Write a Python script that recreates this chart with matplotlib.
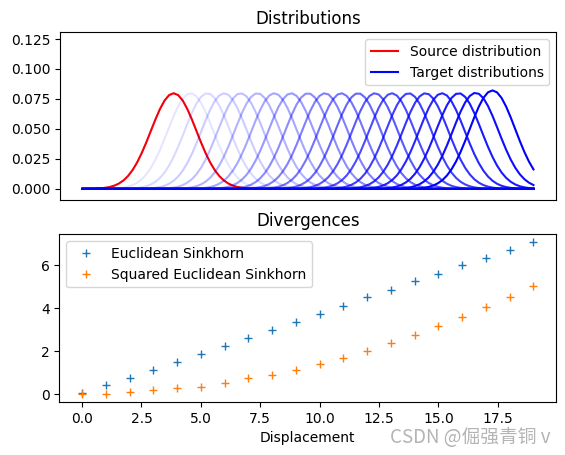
import numpy as np
import matplotlib
matplotlib.use("Agg")
import matplotlib.pyplot as plt

# histogram support and gaussian params
n_bins = 100
source_mean = 20
sigma = 5
target_means = [20, 23.7, 27.4, 31.1, 34.7, 38.4, 42.1, 45.8, 49.5, 53.2,
                56.8, 60.5, 64.2, 67.9, 71.6, 75.3, 78.9, 82.6, 86.3, 90]

# divergence values
displacement = list(range(20))
euclid_sinkhorn = [0.08, 0.43, 0.77, 1.14, 1.51, 1.88, 2.26, 2.63, 2.98, 3.35,
                   3.72, 4.09, 4.50, 4.87, 5.25, 5.61, 5.99, 6.35, 6.71, 7.08]
sq_euclid_sinkhorn = [0.03, 0.0, 0.11, 0.18, 0.28, 0.35, 0.55, 0.74, 0.92, 1.15,
                      1.43, 1.71, 2.03, 2.38, 2.77, 3.18, 3.58, 4.05, 4.54, 5.03]


def gauss_hist(n, m, s):
    x = np.arange(n, dtype=float)
    h = np.exp(-(x - m) ** 2 / (2 * s ** 2))
    return h / h.sum()


x = np.arange(n_bins)

fig = plt.figure(figsize=(5.65, 4.55), dpi=100)
ax1 = fig.add_axes([0.1062, 0.5604, 0.8779, 0.3686])
ax2 = fig.add_axes([0.1053, 0.1165, 0.8788, 0.3685])

ax1.plot(x, gauss_hist(n_bins, source_mean, sigma), color='r', label='Source distribution')
nt = len(target_means)
for k, m in enumerate(target_means):
    lab = 'Target distributions' if k == nt - 1 else None
    ax1.plot(x, gauss_hist(n_bins, m, sigma), color='b', alpha=(k + 1) / nt, label=lab)
ax1.set_ylim(-0.0093, 0.1306)
ax1.set_xticks([])
ax1.set_title('Distributions')
ax1.legend(loc='upper right')

ax2.plot(displacement, euclid_sinkhorn, '+', label='Euclidean Sinkhorn')
ax2.plot(displacement, sq_euclid_sinkhorn, '+', label='Squared Euclidean Sinkhorn')
ax2.set_title('Divergences')
ax2.set_xlabel('Displacement')
ax2.legend(loc='upper left')

fig.text(0.975, 0.038, 'CSDN @倔强青铜 v', ha='right', va='center', fontsize=13.5,
         color='#b4b4b4', family=['Noto Sans CJK SC', 'DejaVu Sans'])

fig.savefig('out.png', dpi=100)
